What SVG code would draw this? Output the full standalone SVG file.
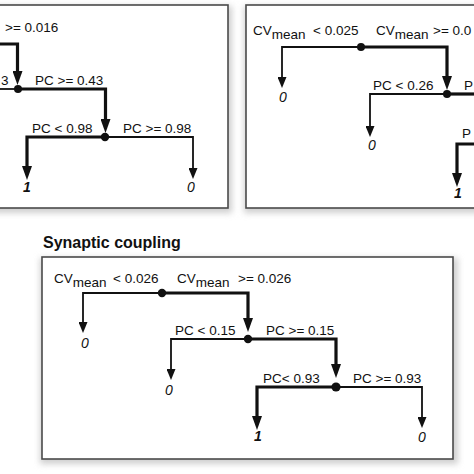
<svg xmlns="http://www.w3.org/2000/svg" width="474" height="474" viewBox="0 0 474 474">
<style>
.box{fill:#fff;stroke:#4a4a4a;stroke-width:1.6}
.shadow{fill:#cfcfcf;filter:url(#blur)}
.lbl{font-family:"Liberation Sans",Arial,sans-serif;font-size:13.5px;fill:#111}
.leaf{font-family:"Liberation Sans",Arial,sans-serif;font-size:14px;font-style:italic;fill:#111}
.one{font-weight:bold}
.title{font-family:"Liberation Sans",Arial,sans-serif;font-size:16px;font-weight:bold;fill:#111}
.thick{fill:none;stroke:#111;stroke-width:3.2;marker-end:url(#ah)}
.thin{fill:none;stroke:#111;stroke-width:1.8;marker-end:url(#as)}
.thickn{fill:none;stroke:#111;stroke-width:3.2}
.thinn{fill:none;stroke:#111;stroke-width:1.8}
.node{fill:#111}
</style>
<defs>
<filter id="blur" x="-10%" y="-10%" width="120%" height="120%"><feGaussianBlur stdDeviation="3"/></filter>
<marker id="ah" markerUnits="userSpaceOnUse" markerWidth="14" markerHeight="10" refX="0" refY="5" orient="auto"><path d="M0,0 L14,5 L0,10 z" fill="#111"/></marker>
<marker id="as" markerUnits="userSpaceOnUse" markerWidth="11" markerHeight="9" refX="0" refY="4.5" orient="auto"><path d="M0,0 L11,4.5 L0,9 z" fill="#111"/></marker>
</defs>
<rect width="474" height="474" fill="#fff"/>

<g id="panels">
<rect class="shadow" x="-10" y="6" width="242" height="207"/>
<rect class="box" x="-10" y="5" width="238" height="203"/>
<rect class="shadow" x="244" y="6" width="242" height="207"/>
<rect class="box" x="246" y="5" width="238" height="203"/>
<rect class="shadow" x="40" y="258" width="418" height="206"/>
<rect class="box" x="42" y="257" width="411" height="202"/>
<text class="title" x="43" y="248">Synaptic coupling</text>
</g>

<g id="connectors">
<!-- top-left -->
<path class="thick" d="M0,44 H17.5 V71"/>
<path class="thinn" d="M0,89 H18"/>
<path class="thick" d="M18,89 H105.5 V119"/>
<path class="thick" d="M105,137 H27 V166"/>
<path class="thin" d="M105,137 H193 V168"/>
<!-- top-right -->
<path class="thin" d="M361,47 H282 V77"/>
<path class="thick" d="M361,47 H447 V76"/>
<path class="thin" d="M447,94 H370 V126"/>
<path class="thickn" d="M447,94 H476"/>
<path class="thick" d="M476,144 H457 V173"/>
<!-- bottom -->
<path class="thin" d="M162,293 H83 V322"/>
<path class="thick" d="M162,293 H248 V318"/>
<path class="thin" d="M248,339 H171 V369"/>
<path class="thick" d="M248,339 H336 V364"/>
<path class="thick" d="M336,387 H257 V416"/>
<path class="thin" d="M336,387 H422 V417"/>
</g>

<g id="node-tl1"><circle class="node" cx="18" cy="89" r="4"/>
<text class="lbl" x="5" y="32">&gt;= 0.016</text>
<text class="lbl" x="1" y="85">3</text>
<text class="lbl" x="35" y="85">PC &gt;= 0.43</text></g>
<g id="node-tl2"><circle class="node" cx="105" cy="137" r="4.2"/>
<text class="lbl" x="32" y="133">PC &lt; 0.98</text>
<text class="lbl" x="123" y="133">PC &gt;= 0.98</text></g>
<g id="leaf-tl1"><text class="leaf one" x="27" y="192" text-anchor="middle">1</text></g>
<g id="leaf-tl0"><text class="leaf" x="191" y="192" text-anchor="middle">0</text></g>

<g id="node-tr1"><circle class="node" cx="361" cy="47" r="4"/>
<text class="lbl" x="253" y="35">CV<tspan dy="4">mean</tspan><tspan x="313" y="35">&lt; 0.025</tspan></text>
<text class="lbl" x="376" y="35">CV<tspan dy="4">mean</tspan><tspan x="433" y="35">&gt;= 0.0</tspan></text></g>
<g id="leaf-tr0a"><text class="leaf" x="283" y="102" text-anchor="middle">0</text></g>
<g id="node-tr2"><circle class="node" cx="447" cy="94" r="4"/>
<text class="lbl" x="373" y="90">PC &lt; 0.26</text>
<text class="lbl" x="464" y="90">P</text></g>
<g id="leaf-tr0b"><text class="leaf" x="372" y="150" text-anchor="middle">0</text></g>
<g id="node-tr3"><text class="lbl" x="462" y="138">P</text></g>
<g id="leaf-tr1"><text class="leaf one" x="458" y="198" text-anchor="middle">1</text></g>

<g id="node-b1"><circle class="node" cx="162" cy="293" r="4.2"/>
<text class="lbl" x="54" y="283">CV<tspan dy="4">mean</tspan><tspan x="113" y="283">&lt; 0.026</tspan></text>
<text class="lbl" x="177" y="283">CV<tspan dy="4">mean</tspan><tspan x="238" y="283">&gt;= 0.026</tspan></text></g>
<g id="leaf-b0a"><text class="leaf" x="85" y="348" text-anchor="middle">0</text></g>
<g id="node-b2"><circle class="node" cx="248" cy="339" r="4.2"/>
<text class="lbl" x="175" y="335">PC &lt; 0.15</text>
<text class="lbl" x="266" y="335">PC &gt;= 0.15</text></g>
<g id="leaf-b0b"><text class="leaf" x="169" y="395" text-anchor="middle">0</text></g>
<g id="node-b3"><circle class="node" cx="336" cy="387" r="4.6"/>
<text class="lbl" x="263" y="383">PC&lt; 0.93</text>
<text class="lbl" x="353" y="383">PC &gt;= 0.93</text></g>
<g id="leaf-b1"><text class="leaf one" x="258" y="441" text-anchor="middle">1</text></g>
<g id="leaf-b0c"><text class="leaf" x="422" y="442" text-anchor="middle">0</text></g>
</svg>
